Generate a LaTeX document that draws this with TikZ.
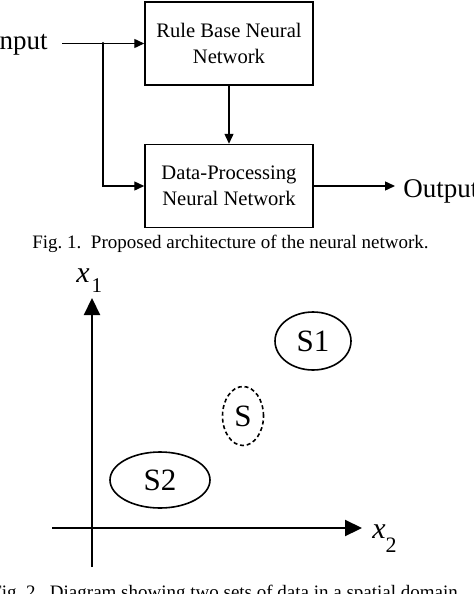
\documentclass[tikz,border=0pt]{standalone}
\usepackage{fontspec}
\setmainfont{Liberation Serif}
\usetikzlibrary{arrows.meta,shapes.geometric}

\begin{document}
\begin{tikzpicture}[x=0.5pt, y=-0.5pt,
    block/.style={draw, line width=0.75pt, minimum width=84pt, minimum height=41.5pt,
        align=center, font=\fontsize{10.3}{12.8}\selectfont},
    flow/.style={-{Triangle[length=5pt,width=4.5pt]}, line width=0.7pt},
    axis/.style={-{Triangle[length=8.5pt,width=8pt]}, line width=1.1pt},
    set/.style={draw, ellipse, line width=0.8pt, inner sep=0pt,
        font=\fontsize{15.5}{15.5}\selectfont},
    caption/.style={anchor=base west, inner sep=0pt, font=\fontsize{9.5}{11}\selectfont}]
    \useasboundingbox (0, 0) rectangle (474, 594);

    %% Fig. 1
    \node[block] (rb) at (229, 43.5) {Rule Base Neural\\Network};
    \node[block] (dp) at (229, 186) {Data-Processing\\Neural Network};
    \node[anchor=east, inner xsep=7pt, inner ysep=0pt, font=\fontsize{13.5}{13.5}\selectfont]
        (inp) at (62, 43.5) {Input};
    \node[anchor=west, inner xsep=4pt, inner ysep=0pt, font=\fontsize{13.5}{13.5}\selectfont]
        (out) at (395, 191) {Output};
    \coordinate (split) at (103, 43.5);

    \draw[flow] (inp.east) -- (rb.west);
    \fill (split) circle (1.6);
    \draw[flow] (split) |- (dp.west);
    \draw[flow] (rb.south) -- (dp.north);
    \draw[flow] (dp.east) -- (dp.east -| out.west);

    \node[caption] (cap1) at (32, 248)
        {Fig.~1.\hspace{0.5em}Proposed architecture of the neural network.};

    %% Fig. 2
    \coordinate (orig) at (92, 528);
    \coordinate (ybot) at (92, 567);
    \coordinate (ytop) at (92, 298);
    \coordinate (xleft) at (52, 528);
    \coordinate (xright) at (362, 528);
    \draw[axis] (ybot) -- (ytop);
    \draw[axis] (xleft) -- (xright);
    \node[anchor=base west, inner sep=0pt, font=\fontsize{15}{15}\selectfont] (xone) at (76, 282)
        {\textit{x}\kern1pt\raisebox{-5pt}{\fontsize{10.5}{10.5}\selectfont 1}};
    \node[anchor=base west, inner sep=0pt, font=\fontsize{15}{15}\selectfont] (xtwo) at (372, 538)
        {\textit{x}\raisebox{-7pt}{\fontsize{11}{11}\selectfont 2}};

    \node[set, minimum width=38pt, minimum height=29pt] (sone) at (313, 341) {S1};
    \node[set, dash pattern=on 2pt off 1.4pt, minimum width=20.5pt, minimum height=29.5pt]
        (smid) at (243, 416) {S};
    \node[set, minimum width=50pt, minimum height=28pt] (stwo) at (160, 480) {S2};

    \node[caption] (cap2) at (-9, 598)
        {Fig.~2.\hspace{0.5em}Diagram showing two sets of data in a spatial domain.};
\end{tikzpicture}
\end{document}
